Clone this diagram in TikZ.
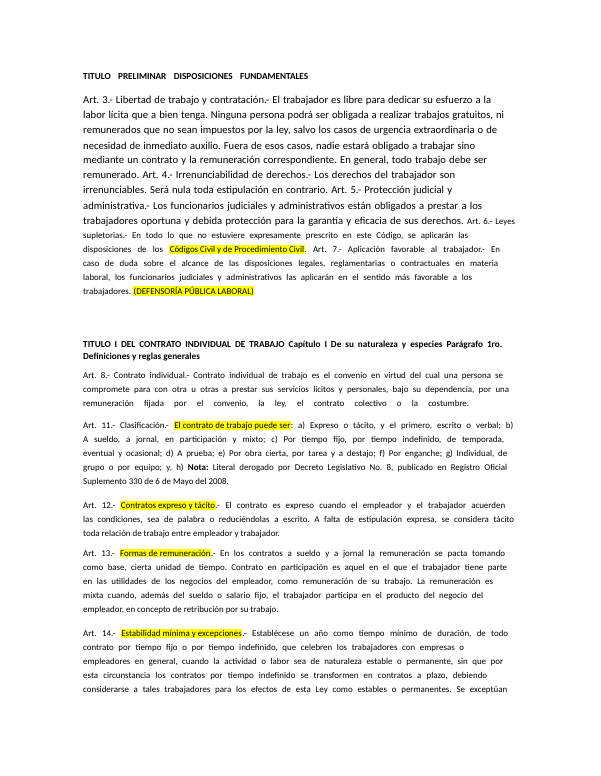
\documentclass[tikz,border=0pt]{standalone}
\usepackage{fontspec}
\setmainfont{Carlito}
\frenchspacing
\definecolor{hly}{RGB}{255,255,0}
\newcommand{\hlt}[1]{{\setlength{\fboxsep}{0.5pt}\colorbox{hly}{#1}}}
\newcommand{\linebox}[2]{\hbox to \dimexpr#1pt-83pt\relax{#2}}
\tikzset{big/.style={anchor=base west,inner sep=0pt,font=\fontsize{10.6}{12}\selectfont},
small/.style={anchor=base west,inner sep=0pt,font=\fontsize{8.9}{10}\selectfont},
ttl/.style={anchor=base west,inner sep=0pt,font=\fontsize{9.2}{10}\selectfont\bfseries}}
\begin{document}
\begin{tikzpicture}[x=1pt,y=-1pt]
\useasboundingbox (0,0) rectangle (600,776);
\fill[white] (0,0) rectangle (600,776);
\let\W\linebox
\node[ttl] (t0) at (83,80) {\W{308}{TITULO PRELIMINAR DISPOSICIONES FUNDAMENTALES}};
\node[big] (a1) at (83,103) {\W{491}{Art. 3.- Libertad de trabajo y contratación.- El trabajador es libre para dedicar su esfuerzo a la}};
\node[big] (a2) at (83,118) {\W{504}{labor lícita que a bien tenga. Ninguna persona podrá ser obligada a realizar trabajos gratuitos, ni}};
\node[big] (a3) at (83,133) {\W{497}{remunerados que no sean impuestos por la ley, salvo los casos de urgencia extraordinaria o de}};
\node[big] (a4) at (83,149) {\W{475}{necesidad de inmediato auxilio. Fuera de esos casos, nadie estará obligado a trabajar sino}};
\node[big] (a5) at (83,163) {\W{487}{mediante un contrato y la remuneración correspondiente. En general, todo trabajo debe ser}};
\node[big] (a6) at (83,178) {\W{455}{remunerado. Art. 4.- Irrenunciabilidad de derechos.- Los derechos del trabajador son}};
\node[big] (a7) at (83,193) {\W{452}{irrenunciables. Será nula toda estipulación en contrario. Art. 5.- Protección judicial y}};
\node[big] (a8) at (83,209) {\W{482}{administrativa.- Los funcionarios judiciales y administrativos están obligados a prestar a los}};
\node[big] (a9) at (83,224) {\W{515}{trabajadores oportuna y debida protección para la garantía y eficacia de sus derechos. {\fontsize{8.9}{10}\selectfont Art. 6.- Leyes}}};
\node[small] (a10) at (83,238) {\W{468}{supletorias.- En todo lo que no estuviere expresamente prescrito en este Código, se aplicarán las}};
\node[small] (a11) at (83,252) {\W{500}{disposiciones de los \hlt{Códigos Civil y de Procedimiento Civil}. Art. 7.- Aplicación favorable al trabajador.- En}};
\node[small] (a12) at (83,266) {\W{498}{caso de duda sobre el alcance de las disposiciones legales, reglamentarias o contractuales en materia}};
\node[small] (a13) at (83,280) {\W{472}{laboral, los funcionarios judiciales y administrativos las aplicarán en el sentido más favorable a los}};
\node[small] (a14) at (83,294) {trabajadores. \hlt{(DEFENSORÍA PÚBLICA LABORAL)}};

\node[ttl] (t1) at (83,347) {\W{502}{TITULO I DEL CONTRATO INDIVIDUAL DE TRABAJO Capítulo I De su naturaleza y especies Parágrafo 1ro.}};
\node[ttl] (t2) at (83,359) {Definiciones y reglas generales};

\node[small] (b1) at (83,378) {\W{503}{Art. 8.- Contrato individual.- Contrato individual de trabajo es el convenio en virtud del cual una persona se}};
\node[small] (b2) at (83,392) {\W{509}{compromete para con otra u otras a prestar sus servicios lícitos y personales, bajo su dependencia, por una}};
\node[small] (b3) at (83,406) {\W{469}{remuneración fijada por el convenio, la ley, el contrato colectivo o la costumbre.}};

\node[small] (c1) at (83,428) {\W{513}{Art. 11.- Clasificación.- \hlt{El contrato de trabajo puede ser}: a) Expreso o tácito, y el primero, escrito o verbal; b)}};
\node[small] (c2) at (83,442) {\W{504}{A sueldo, a jornal, en participación y mixto; c) Por tiempo fijo, por tiempo indefinido, de temporada,}};
\node[small] (c3) at (83,456) {\W{507}{eventual y ocasional; d) A prueba; e) Por obra cierta, por tarea y a destajo; f) Por enganche; g) Individual, de}};
\node[small] (c4) at (83,470) {\W{507}{grupo o por equipo; y, h) \textbf{Nota:} Literal derogado por Decreto Legislativo No. 8, publicado en Registro Oficial}};
\node[small] (c5) at (83,484) {Suplemento 330 de 6 de Mayo del 2008.};

\node[small] (d1) at (83,508) {\W{505}{Art. 12.- \hlt{Contratos expreso y tácito}.- El contrato es expreso cuando el empleador y el trabajador acuerden}};
\node[small] (d2) at (83,522) {\W{514}{las condiciones, sea de palabra o reduciéndolas a escrito. A falta de estipulación expresa, se considera tácito}};
\node[small] (d3) at (83,536) {toda relación de trabajo entre empleador y trabajador.};

\node[small] (e1) at (83,556) {\W{505}{Art. 13.- \hlt{Formas de remuneración}.- En los contratos a sueldo y a jornal la remuneración se pacta tomando}};
\node[small] (e2) at (83,570) {\W{507}{como base, cierta unidad de tiempo. Contrato en participación es aquel en el que el trabajador tiene parte}};
\node[small] (e3) at (83,584) {\W{493}{en las utilidades de los negocios del empleador, como remuneración de su trabajo. La remuneración es}};
\node[small] (e4) at (83,598) {\W{483}{mixta cuando, además del sueldo o salario fijo, el trabajador participa en el producto del negocio del}};
\node[small] (e5) at (83,612) {empleador, en concepto de retribución por su trabajo.};

\node[small] (f1) at (83,636) {\W{508}{Art. 14.- \hlt{Estabilidad mínima y excepciones}.- Establécese un año como tiempo mínimo de duración, de todo}};
\node[small] (f2) at (83,650) {\W{464}{contrato por tiempo fijo o por tiempo indefinido, que celebren los trabajadores con empresas o}};
\node[small] (f3) at (83,664) {\W{503}{empleadores en general, cuando la actividad o labor sea de naturaleza estable o permanente, sin que por}};
\node[small] (f4) at (83,678) {\W{487}{esta circunstancia los contratos por tiempo indefinido se transformen en contratos a plazo, debiendo}};
\node[small] (f5) at (83,692) {\W{507}{considerarse a tales trabajadores para los efectos de esta Ley como estables o permanentes. Se exceptúan}};
\end{tikzpicture}
\end{document}
